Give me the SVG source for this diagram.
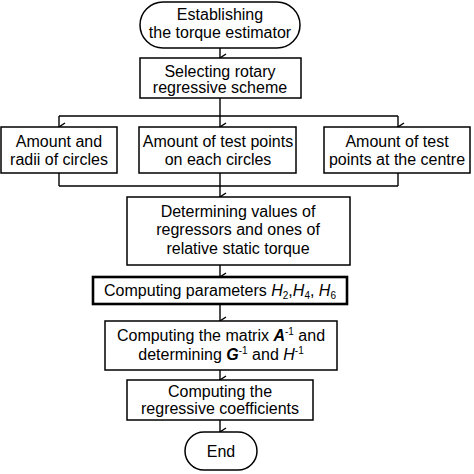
<svg xmlns="http://www.w3.org/2000/svg" width="474" height="474" viewBox="0 0 474 474">
<defs>
<style>
.box{fill:#fff;stroke:#000;stroke-width:1.5}
.bold{stroke-width:2.6}
.t{font-family:"Liberation Sans",Arial,sans-serif;font-size:16px;fill:#000;text-anchor:middle}
.c{fill:none;stroke:#000;stroke-width:1.4}
.sub{font-size:10px}
.it{font-style:italic}
.b{font-weight:bold;font-style:italic}
</style>
<marker id="ar" viewBox="0 0 10 8" refX="5" refY="7" markerWidth="10" markerHeight="8" markerUnits="userSpaceOnUse" orient="auto-start-reverse">
<polyline points="1,1 5,7 9,1" fill="none" stroke="#000" stroke-width="1.4"/>
</marker>
</defs>
<rect width="474" height="474" fill="#fff"/>
<g id="connectors">
<line class="c" x1="220" y1="48" x2="220" y2="58" marker-end="url(#ar)"/>
<line class="c" x1="220" y1="98" x2="220" y2="116"/>
<line class="c" x1="59" y1="116" x2="398" y2="116"/>
<line class="c" x1="59" y1="116" x2="59" y2="127" marker-end="url(#ar)"/>
<line class="c" x1="220" y1="116" x2="220" y2="127" marker-end="url(#ar)"/>
<line class="c" x1="398" y1="116" x2="398" y2="127" marker-end="url(#ar)"/>
<line class="c" x1="59" y1="173" x2="59" y2="186"/>
<line class="c" x1="220" y1="173" x2="220" y2="186"/>
<line class="c" x1="398" y1="173" x2="398" y2="186"/>
<line class="c" x1="59" y1="186" x2="398" y2="186"/>
<line class="c" x1="220" y1="186" x2="220" y2="197" marker-end="url(#ar)"/>
<line class="c" x1="220" y1="265" x2="220" y2="277" marker-end="url(#ar)"/>
<line class="c" x1="220" y1="304" x2="220" y2="321" marker-end="url(#ar)"/>
<line class="c" x1="220" y1="370" x2="220" y2="380" marker-end="url(#ar)"/>
<line class="c" x1="220" y1="420" x2="220" y2="432" marker-end="url(#ar)"/>
</g>
<g id="start">
<rect class="box" x="140" y="2" width="160" height="46" rx="23"/>
<text class="t" x="220" y="20">Establishing</text>
<text class="t" x="220" y="38">the torque estimator</text>
</g>
<g id="scheme">
<rect class="box" x="140" y="58" width="161" height="40"/>
<text class="t" x="220" y="77">Selecting rotary</text>
<text class="t" x="220" y="93">regressive scheme</text>
</g>
<g id="radii">
<rect class="box" x="1" y="127" width="116" height="46"/>
<text class="t" x="59" y="147">Amount and</text>
<text class="t" x="59" y="165">radii of circles</text>
</g>
<g id="points-circles">
<rect class="box" x="139" y="127" width="157" height="46"/>
<text class="t" x="218" y="147">Amount of test points</text>
<text class="t" x="218" y="165">on each circles</text>
</g>
<g id="points-centre">
<rect class="box" x="324" y="127" width="146" height="46"/>
<text class="t" x="397" y="147">Amount of test</text>
<text class="t" x="397" y="165">points at the centre</text>
</g>
<g id="regressors">
<rect class="box" x="127" y="197" width="223" height="68"/>
<text class="t" x="238" y="217">Determining values of</text>
<text class="t" x="238" y="235">regressors and ones of</text>
<text class="t" x="238" y="254">relative static torque</text>
</g>
<g id="parameters">
<rect class="box bold" x="93" y="277" width="254" height="27"/>
<text class="t" x="220" y="296">Computing parameters <tspan class="it">H</tspan><tspan class="sub" dy="3">2</tspan><tspan dy="-3">,</tspan><tspan class="it">H</tspan><tspan class="sub" dy="3">4</tspan><tspan dy="-3">, </tspan><tspan class="it">H</tspan><tspan class="sub" dy="3">6</tspan></text>
</g>
<g id="matrix">
<rect class="box" x="105" y="321" width="232" height="49"/>
<text class="t" x="221" y="341">Computing the matrix <tspan class="b">A</tspan><tspan class="sub" dy="-6">-1</tspan><tspan dy="6"> and</tspan></text>
<text class="t" x="221" y="360">determining <tspan class="b">G</tspan><tspan class="sub" dy="-6">-1</tspan><tspan dy="6"> and </tspan><tspan class="it">H</tspan><tspan class="sub" dy="-6">-1</tspan></text>
</g>
<g id="coefficients">
<rect class="box" x="127" y="380" width="186" height="40"/>
<text class="t" x="220" y="397">Computing the</text>
<text class="t" x="220" y="414">regressive coefficients</text>
</g>
<g id="end">
<rect class="box" x="185" y="432" width="72" height="38" rx="19"/>
<text class="t" x="221" y="457">End</text>
</g>
</svg>
